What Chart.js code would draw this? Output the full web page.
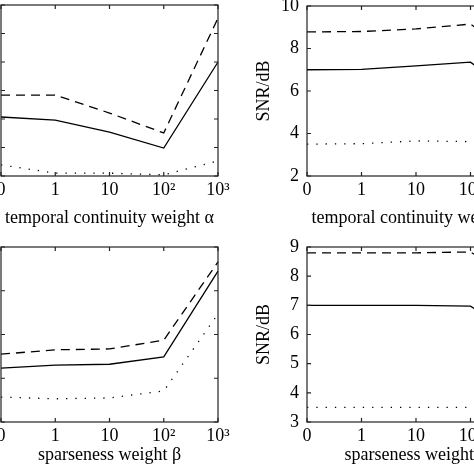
<!DOCTYPE html>
<html>
<head>
<meta charset="utf-8">
<script src="https://cdn.jsdelivr.net/npm/chart.js@4.4.0/dist/chart.umd.min.js"></script>
<style>
  html, body { margin: 0; padding: 0; background: #fff; overflow: hidden; width: 474px; height: 474px; }
  canvas { position: absolute; }
</style>
</head>
<body>
<canvas id="tl" width="237" height="237" style="left:0;top:0"></canvas>
<canvas id="tr" width="310" height="237" style="left:237px;top:0"></canvas>
<canvas id="bl" width="237" height="237" style="left:0;top:237px"></canvas>
<canvas id="br" width="310" height="237" style="left:237px;top:237px"></canvas>
<script>
// x categories (same for all panels)
const xLabels = ['0', '1', '10', '10²', '10³'];

// top left: temporal continuity weight (y labels cut off in the source)
const alphaSolidL = [2.07, 1.96, 1.54, 0.98, 4.0];
const alphaDashedL = [2.84, 2.84, 2.21, 1.51, 5.54];
const alphaDottedL = [0.39, 0.10, 0.10, 0.04, 0.53];

// top right: SNR/dB vs alpha
const alphaSolidR = [7.0, 7.02, 7.18, 7.36, 5.5];
const alphaDashedR = [8.78, 8.8, 8.92, 9.15, 7.3];
const alphaDottedR = [3.5, 3.52, 3.65, 3.62, 3.4];

// bottom left: sparseness weight
const betaSolidL = [1.23, 1.30, 1.32, 1.49, 3.45];
const betaDashedL = [1.55, 1.65, 1.67, 1.87, 3.66];
const betaDottedL = [0.57, 0.53, 0.55, 0.71, 2.47];

// bottom right: SNR/dB vs beta
const betaSolidR = [7.0, 7.0, 7.0, 6.97, 5.8];
const betaDashedR = [8.8, 8.8, 8.8, 8.83, 7.65];
const betaDottedR = [3.5, 3.5, 3.5, 3.5, 3.5];

const FONT = 'Liberation Serif';
const INK = '#000';

// matlab style box with inward ticks
const boxPlugin = {
    id: 'box',
    afterDraw(chart) {
        const {ctx, chartArea: a, scales: {x, y}} = chart;
        ctx.save();
        ctx.strokeStyle = '#222';
        ctx.lineWidth = 1.2;
        ctx.strokeRect(a.left, a.top, a.right - a.left, a.bottom - a.top);
        ctx.beginPath();
        x.ticks.forEach((t, i) => {
            const px = x.getPixelForTick(i);
            ctx.moveTo(px, a.bottom); ctx.lineTo(px, a.bottom - 4);
            ctx.moveTo(px, a.top); ctx.lineTo(px, a.top + 4);
        });
        y.ticks.forEach((t, i) => {
            const py = y.getPixelForTick(i);
            ctx.moveTo(a.left, py); ctx.lineTo(a.left + 4, py);
            ctx.moveTo(a.right, py); ctx.lineTo(a.right - 4, py);
        });
        ctx.stroke();
        ctx.restore();
    }
};

function makeChart(id, solid, dashed, dotted, yMin, yMax, yStep, showY, xTitle, padTop, xHeight, padRight) {
    const ctx = document.getElementById(id).getContext('2d');
    return new Chart(ctx, {
        type: 'line',
        data: {
            labels: xLabels,
            datasets: [
                { data: solid, borderColor: '#000', borderWidth: 1.3, pointRadius: 0, tension: 0 },
                { data: dashed, borderColor: '#000', borderWidth: 1.3, borderDash: [9, 6], pointRadius: 0, tension: 0 },
                { data: dotted, borderColor: '#000', borderWidth: 1.3, borderDash: [1.3, 8], pointRadius: 0, tension: 0 }
            ]
        },
        options: {
            responsive: false,
            animation: false,
            layout: { padding: { top: padTop, right: padRight, left: 0, bottom: 0 } },
            plugins: { legend: { display: false }, tooltip: { enabled: false } },
            scales: {
                x: {
                    type: 'category',
                    offset: false,
                    grid: { display: false, drawTicks: false },
                    border: { display: false },
                    ticks: { color: INK, font: { family: FONT, size: 18 }, padding: 3, maxRotation: 0, autoSkip: false },
                    title: { display: true, text: xTitle, color: INK, font: { family: FONT, size: 18 }, padding: { top: 0, bottom: 8 } },
                    afterFit: s => { s.height = xHeight; s.paddingLeft = 0; s.paddingRight = 0; }
                },
                y: {
                    min: yMin, max: yMax,
                    grid: { display: false, drawTicks: false },
                    border: { display: false },
                    ticks: { display: showY, stepSize: yStep, color: INK, font: { family: FONT, size: 18 }, padding: 8 },
                    title: { display: showY, text: 'SNR/dB', color: INK, font: { family: FONT, size: 18 }, padding: { top: 16, bottom: 0 } },
                    afterFit: s => { s.width = showY ? 70 : 1; s.paddingTop = 0; s.paddingBottom = 0; }
                }
            }
        },
        plugins: [boxPlugin]
    });
}

makeChart('tl', alphaSolidL, alphaDashedL, alphaDottedL, 0, 6, 1, false, 'temporal continuity weight α', 5, 61, 19);
makeChart('tr', alphaSolidR, alphaDashedR, alphaDottedR, 2, 10, 2, true, 'temporal continuity weight α', 6, 61, 22);
makeChart('bl', betaSolidL, betaDashedL, betaDottedL, 0, 4, 1, false, 'sparseness weight β', 10, 52, 19);
makeChart('br', betaSolidR, betaDashedR, betaDottedR, 3, 9, 1, true, 'sparseness weight β', 10, 52, 22);
</script>
</body>
</html>
